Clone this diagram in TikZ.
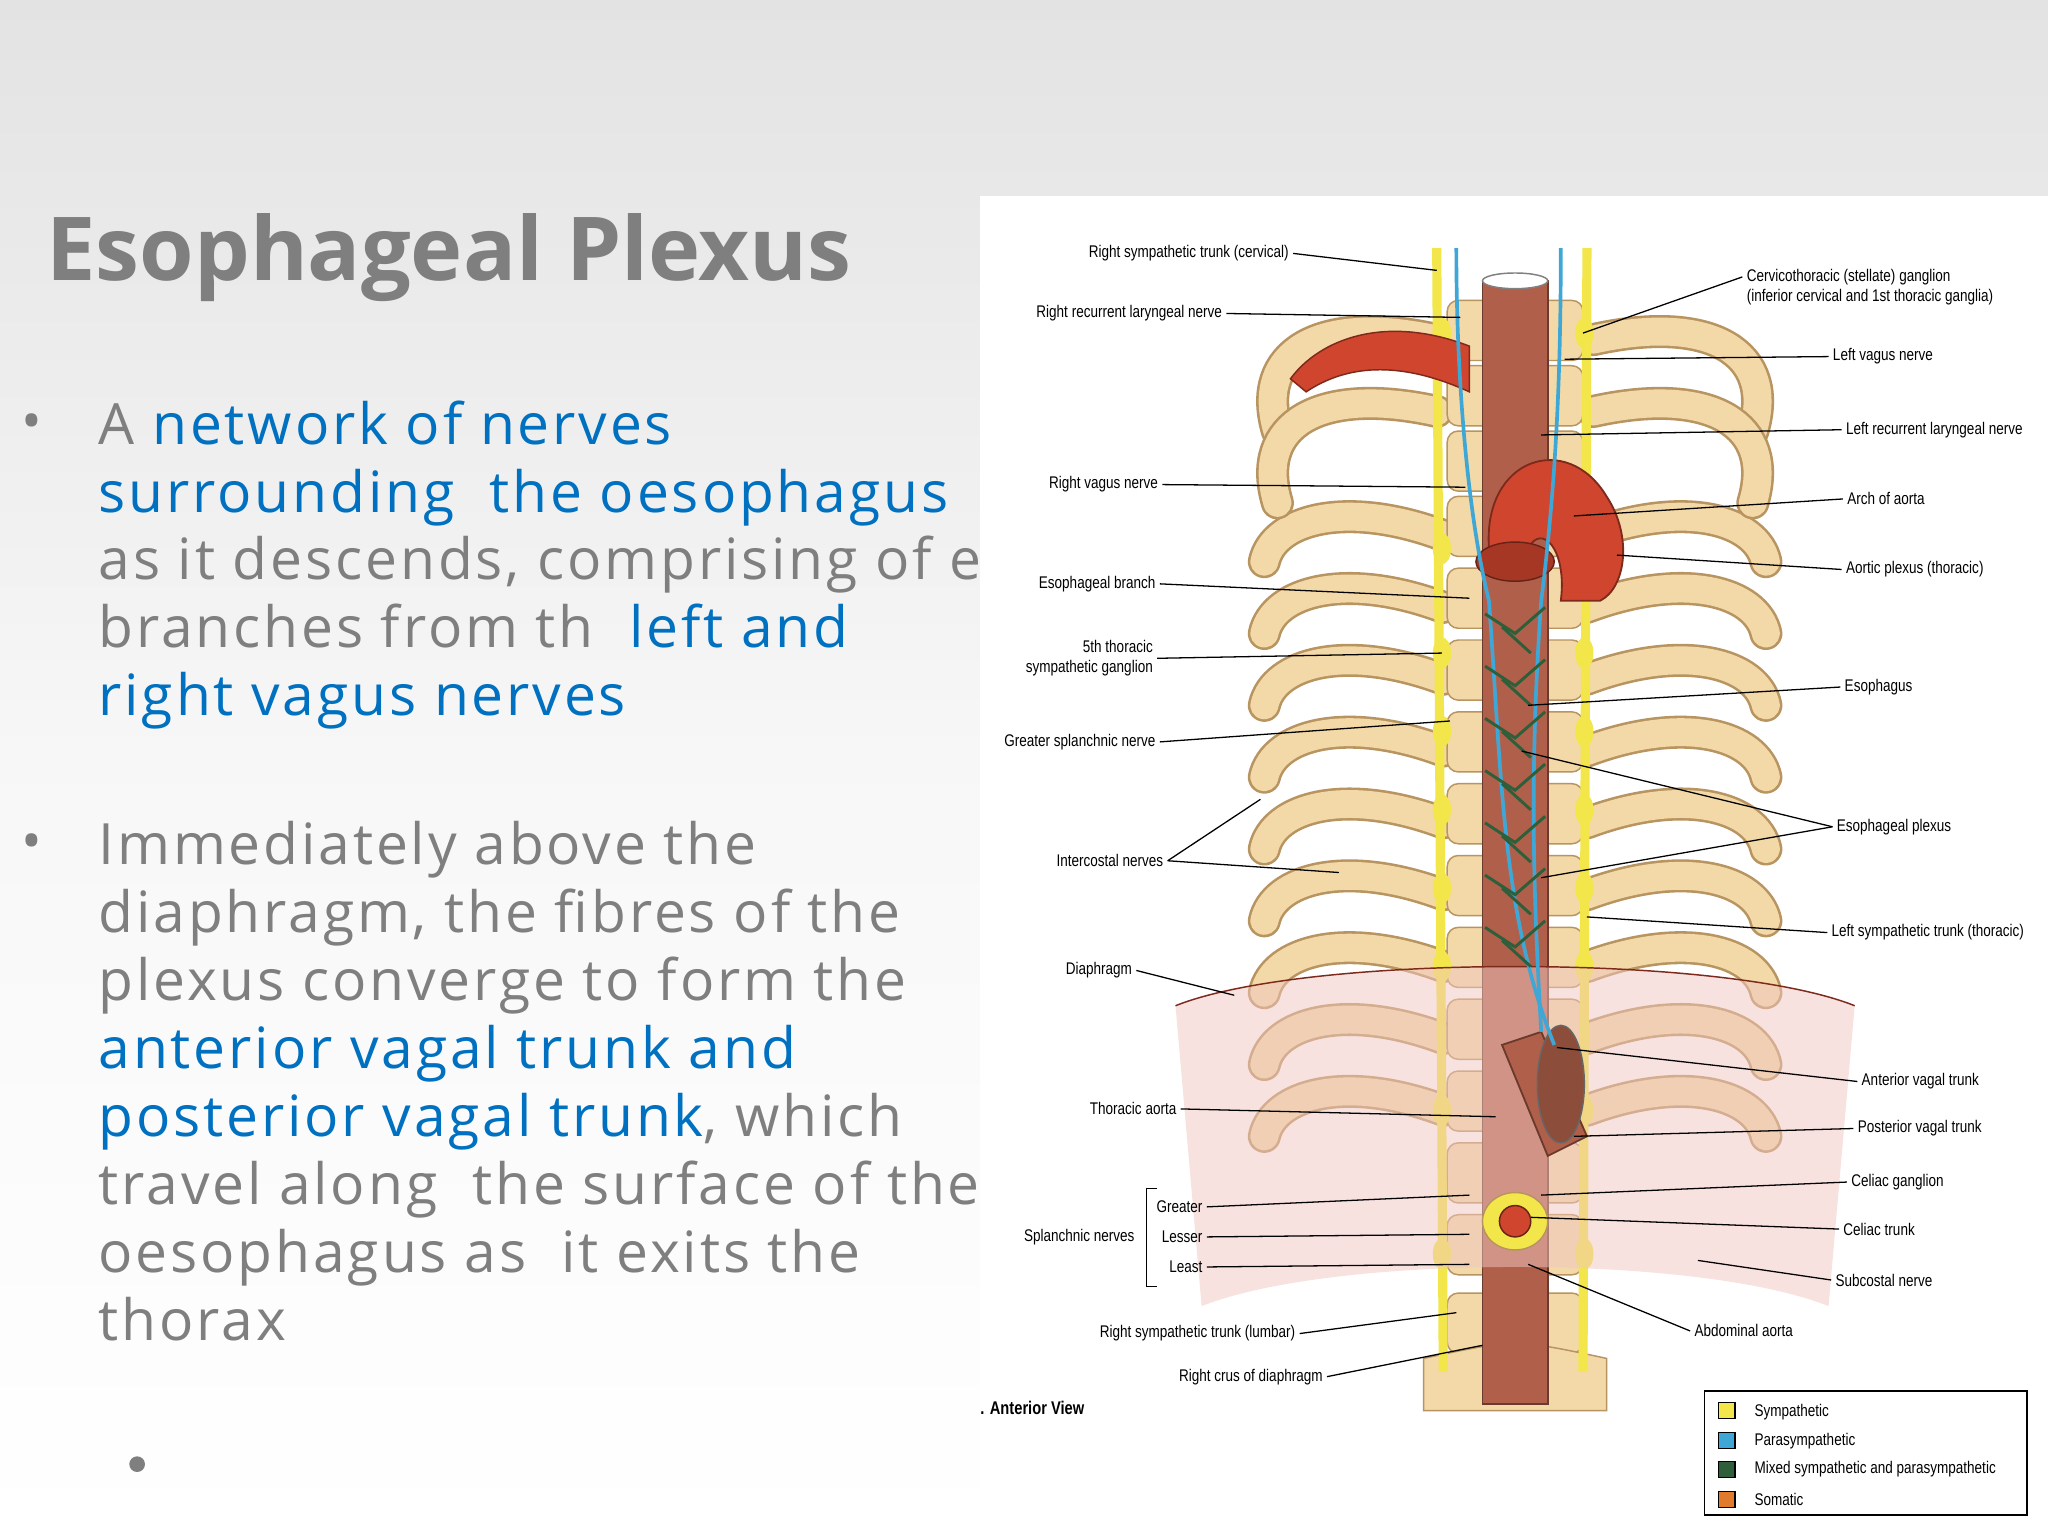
\documentclass[tikz,border=0pt]{standalone}
\usepackage{fontspec}
\setmainfont{Open Sans}
\newfontfamily\bodyfont[LetterSpace=5]{Open Sans}
\newfontfamily\lblfont[FakeStretch=0.8]{Liberation Sans}
\usetikzlibrary{calc}
\definecolor{myblue}{HTML}{0070C0}
\definecolor{mygray}{HTML}{7F7F7F}
\definecolor{ribc}{HTML}{F3D9A8}
\definecolor{ribe}{HTML}{B89460}
\definecolor{esoc}{HTML}{B0604A}
\definecolor{aorc}{HTML}{D0452E}
\definecolor{nyel}{HTML}{F2E64A}
\definecolor{nblu}{HTML}{3FA7D6}
\definecolor{ngrn}{HTML}{2E5E3A}
\definecolor{norg}{HTML}{E07B2E}
\tikzset{
 body/.style={anchor=base west,inner sep=0,font=\bodyfont\fontsize{15.5}{18}\selectfont,text=mygray},
 lblL/.style={anchor=east,inner sep=1pt,font=\lblfont\fontsize{4.6}{5.4}\selectfont,align=right},
 lblR/.style={anchor=west,inner sep=1pt,font=\lblfont\fontsize{4.6}{5.4}\selectfont,align=left},
 lead/.style={draw=black,line width=0.35pt},
 rib/.style={draw=ribe,line width=9pt,line cap=round},
 ribin/.style={draw=ribc,line width=7.6pt,line cap=round},
 leg/.style={draw=black,line width=0.3pt,minimum size=4.5pt,inner sep=0},
}
\begin{document}
\begin{tikzpicture}[x=0.0125cm,y=-0.0125cm]
\useasboundingbox (0,0) rectangle (1568,1176);
\shade[top color=gray!22,bottom color=white,middle color=gray!6] (0,0) rectangle (1568,1176);
% title and text
\node[anchor=base west,inner sep=0,font=\bfseries\fontsize{24}{28}\selectfont,text=mygray] (title) at (35,215) {Esophageal Plexus};
\node[anchor=base west,inner sep=0,font=\fontsize{15}{18}\selectfont,text=mygray] (b1) at (16,337) {•};
\node[anchor=base west,inner sep=0,font=\fontsize{15}{18}\selectfont,text=mygray] (b2) at (16,659) {•};
\node[body] (t1) at (75,340) {A \textcolor{myblue}{network of nerves}};
\node[body,text=myblue] (t2) at (75,392) {surrounding\ \ the oesophagus};
\node[body] (t3) at (75,444) {as it descends,\ comprising of either};
\node[body] (t4) at (75,496) {branches from th\ \ \textcolor{myblue}{left and}};
\node[body,text=myblue] (t5) at (75,548) {right vagus nerves};
\node[body] (t6) at (75,662) {Immediately above the};
\node[body] (t7) at (75,714) {diaphragm, the fibres of the};
\node[body] (t8) at (75,766) {plexus converge to form the};
\node[body,text=myblue] (t9) at (75,818) {anterior vagal trunk and};
\node[body] (t10) at (75,870) {\textcolor{myblue}{posterior\ vagal trunk}, which};
\node[body] (t11) at (75,922) {travel along\ \ the surface of the};
\node[body] (t12) at (75,974) {oesophagus as\ \ it exits the};
\node[body] (t13) at (75,1026) {thorax};
\fill[mygray] (105,1121) circle (6);
% diagram panel
\fill[white] (750,150) rectangle (1568,1176);
% ribs
\foreach \y in {410,465,520,575,630,685,740,795,850} {
 \draw[rib] (1105,\y) .. controls (1030,\y-28) and (975,\y-12) .. (968,\y+20);
 \draw[ribin] (1105,\y) .. controls (1030,\y-28) and (975,\y-12) .. (968,\y+20);
 \draw[rib] (1215,\y) .. controls (1290,\y-28) and (1345,\y-12) .. (1352,\y+20);
 \draw[ribin] (1215,\y) .. controls (1290,\y-28) and (1345,\y-12) .. (1352,\y+20);
}
\foreach \y in {300,355} {
 \draw[rib] (1100,\y-40) .. controls (1010,\y-60) and (960,\y-30) .. (978,\y+30);
 \draw[ribin] (1100,\y-40) .. controls (1010,\y-60) and (960,\y-30) .. (978,\y+30);
 \draw[rib] (1220,\y-40) .. controls (1310,\y-60) and (1360,\y-30) .. (1342,\y+30);
 \draw[ribin] (1220,\y-40) .. controls (1310,\y-60) and (1360,\y-30) .. (1342,\y+30);
}
% vertebral column
\foreach \y in {230,280,330,380,435,490,545,600,655,710,765,820,875,930,990} {
 \filldraw[fill=ribc,draw=ribe,line width=0.4pt,rounded corners=3] (1108,\y) rectangle (1212,\y+46);
}
\filldraw[fill=ribc,draw=ribe,line width=0.4pt] (1090,1040) .. controls (1160,1025) .. (1230,1040) -- (1230,1080) -- (1090,1080) -- cycle;
% sympathetic trunks
\draw[nyel,line width=2.5pt] (1100,190) -- (1105,1050);
\draw[nyel,line width=2.5pt] (1215,190) -- (1212,1050);
\foreach \y in {255,420,500,560,620,680,740,850,960} {
 \fill[nyel] (1104,\y) ellipse (7 and 12);
 \fill[nyel] (1213,\y) ellipse (7 and 12);
}
% thoracic/abdominal aorta
\fill[aorc] (1150,460) rectangle (1185,1060);
% right subclavian
\filldraw[fill=aorc,draw=aorc!60!black,line width=0.4pt] (1125,265) .. controls (1060,240) and (1010,260) .. (988,290) -- (1000,300) .. controls (1030,280) and (1070,275) .. (1125,300) -- cycle;
% esophagus
\filldraw[fill=esoc,draw=esoc!60!black,line width=0.5pt] (1135,215) rectangle (1185,1075);
\filldraw[fill=white,draw=gray] (1160,215) ellipse (25 and 6);
% arch of aorta
\filldraw[fill=aorc,draw=aorc!60!black,line width=0.5pt] (1140,420) .. controls (1135,350) and (1200,330) .. (1230,380) .. controls (1250,410) and (1245,450) .. (1225,460) -- (1195,460) .. controls (1200,420) and (1180,400) .. (1170,420) -- cycle;
\filldraw[fill=aorc!80!black,draw=aorc!50!black] (1160,430) ellipse (30 and 15);
% diaphragm
\fill[aorc!30,opacity=0.5] (900,770) .. controls (1000,730) and (1320,730) .. (1420,770) -- (1400,1000) .. controls (1300,960) and (1020,960) .. (920,1000) -- cycle;
\draw[aorc!60!black,line width=0.4pt] (900,770) .. controls (1000,730) and (1320,730) .. (1420,770);
% abdominal esophagus & celiac
\filldraw[fill=esoc,draw=esoc!60!black,line width=0.5pt] (1150,800) -- (1180,790) -- (1215,870) -- (1185,885) -- cycle;
\filldraw[fill=esoc!80!black,draw=black!60] (1195,830) ellipse (18 and 45);
\filldraw[fill=nyel,draw=ribe] (1160,935) ellipse (25 and 22);
\filldraw[fill=aorc,draw=aorc!50!black] (1160,935) circle (12);
% vagus nerves and plexus
\draw[nblu,line width=1pt] (1115,190) .. controls (1115,300) and (1125,400) .. (1140,460) .. controls (1150,600) and (1150,700) .. (1190,800);
\draw[nblu,line width=1pt] (1195,190) .. controls (1195,300) and (1190,380) .. (1180,460) .. controls (1170,600) and (1175,700) .. (1180,790);
\foreach \y in {470,510,550,590,630,670,710} {
 \draw[ngrn,line width=0.8pt] (1137,\y) -- (1160,\y+15) -- (1183,\y-5);
 \draw[ngrn,line width=0.8pt] (1150,\y+10) -- (1172,\y+30);
}
% left labels
\node[lblL] (l1) at (990,194) {Right sympathetic trunk (cervical)};
\draw[lead] (l1.east) -- (1100,207);
\node[lblL] (l2) at (939,240) {Right recurrent laryngeal nerve};
\draw[lead] (l2.east) -- (1118,243);
\node[lblL] (l3) at (890,371) {Right vagus nerve};
\draw[lead] (l3.east) -- (1122,373);
\node[lblL] (l4) at (888,447) {Esophageal branch};
\draw[lead] (l4.east) -- (1125,458);
\node[lblL] (l5) at (886,504) {5th thoracic\\sympathetic ganglion};
\draw[lead] (l5.east) -- (1104,500);
\node[lblL] (l6) at (888,568) {Greater splanchnic nerve};
\draw[lead] (l6.east) -- (1110,552);
\node[lblL] (l7) at (894,659) {Intercostal nerves};
\draw[lead] (l7.east) -- (965,612);
\draw[lead] (l7.east) -- (1025,668);
\node[lblL] (l8) at (870,743) {Diaphragm};
\draw[lead] (l8.east) -- (945,762);
\node[lblL] (l9) at (904,849) {Thoracic aorta};
\draw[lead] (l9.east) -- (1145,855);
\node[lblL] (l10) at (872,947) {Splanchnic nerves};
\draw[lead] (886,910) -- (878,910) -- (878,985) -- (886,985);
\node[lblL] (l11) at (924,924) {Greater};
\draw[lead] (l11.east) -- (1125,915);
\node[lblL] (l12) at (924,947) {Lesser};
\draw[lead] (l12.east) -- (1125,945);
\node[lblL] (l13) at (924,970) {Least};
\draw[lead] (l13.east) -- (1125,968);
\node[lblL] (l14) at (995,1021) {Right sympathetic trunk (lumbar)};
\draw[lead] (l14.east) -- (1115,1005);
\node[lblL] (l15) at (1016,1054) {Right crus of diaphragm};
\draw[lead] (l15.east) -- (1135,1030);
\node[anchor=west,inner sep=0,font=\lblfont\bfseries\fontsize{5}{6}\selectfont] (av) at (750,1078) {. Anterior View};
% right labels
\node[lblR] (r1) at (1334,220) {Cervicothoracic (stellate) ganglion\\(inferior cervical and 1st thoracic ganglia)};
\draw[lead] (r1.west|-1334,212) -- (1212,255);
\node[lblR] (r2) at (1400,273) {Left vagus nerve};
\draw[lead] (r2.west) -- (1198,275);
\node[lblR] (r3) at (1410,329) {Left recurrent laryngeal nerve};
\draw[lead] (r3.west) -- (1180,333);
\node[lblR] (r4) at (1411,382) {Arch of aorta};
\draw[lead] (r4.west) -- (1205,395);
\node[lblR] (r5) at (1410,436) {Aortic plexus (thoracic)};
\draw[lead] (r5.west) -- (1238,425);
\node[lblR] (r6) at (1409,526) {Esophagus};
\draw[lead] (r6.west) -- (1170,540);
\node[lblR] (r7) at (1403,633) {Esophageal plexus};
\draw[lead] (r7.west) -- (1165,575);
\draw[lead] (r7.west) -- (1180,672);
\node[lblR] (r8) at (1399,714) {Left sympathetic trunk (thoracic)};
\draw[lead] (r8.west) -- (1215,702);
\node[lblR] (r9) at (1422,828) {Anterior vagal trunk};
\draw[lead] (r9.west) -- (1192,802);
\node[lblR] (r10) at (1419,864) {Posterior vagal trunk};
\draw[lead] (r10.west) -- (1205,870);
\node[lblR] (r11) at (1414,905) {Celiac ganglion};
\draw[lead] (r11.west) -- (1180,915);
\node[lblR] (r12) at (1408,941) {Celiac trunk};
\draw[lead] (r12.west) -- (1172,932);
\node[lblR] (r13) at (1402,980) {Subcostal nerve};
\draw[lead] (r13.west) -- (1300,965);
\node[lblR] (r14) at (1294,1019) {Abdominal aorta};
\draw[lead] (r14.west) -- (1170,968);
% legend
\draw[line width=0.4pt] (1305,1065) rectangle (1552,1160);
\node[leg,fill=nyel] (k1) at (1322,1080) {};
\node[leg,fill=nblu] (k2) at (1322,1103) {};
\node[leg,fill=ngrn] (k3) at (1322,1125) {};
\node[leg,fill=norg] (k4) at (1322,1148) {};
\node[lblR] (kt1) at (1340,1081) {Sympathetic};
\node[lblR] (kt2) at (1340,1103) {Parasympathetic};
\node[lblR] (kt3) at (1340,1125) {Mixed sympathetic and parasympathetic};
\node[lblR] (kt4) at (1340,1148) {Somatic};
\end{tikzpicture}
\end{document}
